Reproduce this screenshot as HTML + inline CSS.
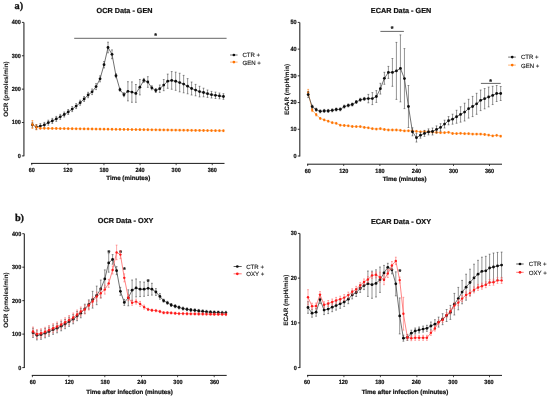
<!DOCTYPE html>
<html><head><meta charset="utf-8"><title>OCR / ECAR Data</title>
<style>
html,body{margin:0;padding:0;background:#fff;}
body{width:550px;height:396px;overflow:hidden;}
svg{display:block;}
text{text-rendering:geometricPrecision;font-family:"Liberation Sans",Arial,sans-serif;fill:#111;stroke:#111;stroke-width:0.22px;}
.tt{font-size:7.25px;font-weight:bold;}
.tl{font-size:6.1px;font-weight:bold;}
.xt{font-size:6.2px;font-weight:bold;}
.yt{font-size:6.35px;font-weight:bold;stroke-width:0.08px;}
.lg{font-size:6.1px;fill:#1a1a1a;stroke:#1a1a1a;stroke-width:0.14px;}
.st{font-size:7px;font-weight:bold;}
.pl{font-family:"Liberation Serif",serif;font-size:10.3px;font-weight:bold;stroke-width:0.3px;}
</style></head>
<body>
<svg width="550" height="396" viewBox="0 0 550 396">
<rect width="550" height="396" fill="#fff"/>
<text x="14.5" y="8.8" class="pl">a)</text>
<text x="14.9" y="220.8" class="pl">b)</text>
<line x1="23.9" y1="22.4" x2="23.9" y2="156.3" stroke="#555" stroke-width="1.4"/>
<line x1="21.9" y1="155.9" x2="23.9" y2="155.9" stroke="#1a1a1a" stroke-width="0.9"/>
<text transform="translate(20.8,157.8) scale(0.9,1)" class="tl" text-anchor="end">0</text>
<line x1="21.9" y1="122.53" x2="23.9" y2="122.53" stroke="#1a1a1a" stroke-width="0.9"/>
<text transform="translate(20.8,124.43) scale(0.9,1)" class="tl" text-anchor="end">100</text>
<line x1="21.9" y1="89.15" x2="23.9" y2="89.15" stroke="#1a1a1a" stroke-width="0.9"/>
<text transform="translate(20.8,91.05) scale(0.9,1)" class="tl" text-anchor="end">200</text>
<line x1="21.9" y1="55.78" x2="23.9" y2="55.78" stroke="#1a1a1a" stroke-width="0.9"/>
<text transform="translate(20.8,57.68) scale(0.9,1)" class="tl" text-anchor="end">300</text>
<line x1="21.9" y1="22.4" x2="23.9" y2="22.4" stroke="#1a1a1a" stroke-width="0.9"/>
<text transform="translate(20.8,24.3) scale(0.9,1)" class="tl" text-anchor="end">400</text>
<line x1="31" y1="163.4" x2="224.5" y2="163.4" stroke="#1a1a1a" stroke-width="1"/>
<line x1="31.75" y1="163.4" x2="31.75" y2="165.2" stroke="#1a1a1a" stroke-width="0.8"/>
<text transform="translate(31.75,171.9) scale(0.9,1)" class="tl" text-anchor="middle">60</text>
<line x1="67.85" y1="163.4" x2="67.85" y2="165.2" stroke="#1a1a1a" stroke-width="0.8"/>
<text transform="translate(67.85,171.9) scale(0.9,1)" class="tl" text-anchor="middle">120</text>
<line x1="103.95" y1="163.4" x2="103.95" y2="165.2" stroke="#1a1a1a" stroke-width="0.8"/>
<text transform="translate(103.95,171.9) scale(0.9,1)" class="tl" text-anchor="middle">180</text>
<line x1="140.05" y1="163.4" x2="140.05" y2="165.2" stroke="#1a1a1a" stroke-width="0.8"/>
<text transform="translate(140.05,171.9) scale(0.9,1)" class="tl" text-anchor="middle">240</text>
<line x1="176.15" y1="163.4" x2="176.15" y2="165.2" stroke="#1a1a1a" stroke-width="0.8"/>
<text transform="translate(176.15,171.9) scale(0.9,1)" class="tl" text-anchor="middle">300</text>
<line x1="212.25" y1="163.4" x2="212.25" y2="165.2" stroke="#1a1a1a" stroke-width="0.8"/>
<text transform="translate(212.25,171.9) scale(0.9,1)" class="tl" text-anchor="middle">360</text>
<text x="124.55" y="12.6" class="tt" text-anchor="middle">OCR Data - GEN</text>
<text x="128.25" y="180.2" class="xt" text-anchor="middle">Time (minutes)</text>
<text transform="translate(8.3,89) rotate(-90)" class="yt" text-anchor="middle">OCR (pmoles/min)</text>
<line x1="74.2" y1="38.3" x2="226.6" y2="38.3" stroke="#555" stroke-width="0.9"/>
<text x="155.6" y="37.9" class="st" text-anchor="middle">*</text>
<polyline points="32.4,124.8 36.38,127 40.36,126.1 44.34,124.9 48.32,122.7 52.3,120.9 56.28,118.9 60.26,116.85 64.24,114.5 68.22,112 72.2,109.1 76.18,106.1 80.16,102.7 84.14,99 88.12,95 92.1,91.8 96.08,86.6 100.06,78.85 104.04,64.7 108.02,47.5 112,54.3 115.98,75.7 119.96,89.7 123.94,94.7 127.92,91.3 131.9,92.1 135.88,93.4 139.86,87.2 143.84,80.4 147.82,82 151.8,87.8 155.78,90.5 159.76,88.7 163.74,85.1 167.72,81.2 171.7,80.4 175.68,81.25 179.66,82.55 183.64,84.1 187.62,86.2 191.6,88.5 195.58,90.1 199.56,91.6 203.54,92.5 207.52,93.7 211.5,94.7 215.48,95.3 219.46,95.9 223.44,96.5" fill="none" stroke="#333" stroke-width="0.7" stroke-linejoin="round"/>
<path d="M32.4 122.3V127.3M31.5 122.3H33.3M31.5 127.3H33.3M36.38 124.5V129.5M35.48 124.5H37.28M35.48 129.5H37.28M40.36 123.6V128.6M39.46 123.6H41.26M39.46 128.6H41.26M44.34 122.4V127.4M43.44 122.4H45.24M43.44 127.4H45.24M48.32 120.2V125.2M47.42 120.2H49.22M47.42 125.2H49.22M52.3 118.4V123.4M51.4 118.4H53.2M51.4 123.4H53.2M56.28 116.4V121.4M55.38 116.4H57.18M55.38 121.4H57.18M60.26 114.35V119.35M59.36 114.35H61.16M59.36 119.35H61.16M64.24 112V117M63.34 112H65.14M63.34 117H65.14M68.22 109.5V114.5M67.32 109.5H69.12M67.32 114.5H69.12M72.2 106.6V111.6M71.3 106.6H73.1M71.3 111.6H73.1M76.18 103.6V108.6M75.28 103.6H77.08M75.28 108.6H77.08M80.16 100.2V105.2M79.26 100.2H81.06M79.26 105.2H81.06M84.14 96.5V101.5M83.24 96.5H85.04M83.24 101.5H85.04M88.12 92.3V97.7M87.22 92.3H89.02M87.22 97.7H89.02M92.1 89V94.6M91.2 89H93M91.2 94.6H93M96.08 83.6V89.6M95.18 83.6H96.98M95.18 89.6H96.98M100.06 75.85V81.85M99.16 75.85H100.96M99.16 81.85H100.96M104.04 61.5V67.9M103.14 61.5H104.94M103.14 67.9H104.94M108.02 42.2V52.8M107.12 42.2H108.92M107.12 52.8H108.92M112 49.9V58.7M111.1 49.9H112.9M111.1 58.7H112.9M115.98 73.7V77.7M115.08 73.7H116.88M115.08 77.7H116.88M119.96 88.2V91.2M119.06 88.2H120.86M119.06 91.2H120.86M123.94 92.7V96.7M123.04 92.7H124.84M123.04 96.7H124.84M127.92 81.7V100.9M127.02 81.7H128.82M127.02 100.9H128.82M131.9 81.9V102.3M131 81.9H132.8M131 102.3H132.8M135.88 84.5V102.3M134.98 84.5H136.78M134.98 102.3H136.78M139.86 79.5V94.9M138.96 79.5H140.76M138.96 94.9H140.76M143.84 78.4V82.4M142.94 78.4H144.74M142.94 82.4H144.74M147.82 76.7V87.3M146.92 76.7H148.72M146.92 87.3H148.72M151.8 85.8V89.8M150.9 85.8H152.7M150.9 89.8H152.7M155.78 88.5V92.5M154.88 88.5H156.68M154.88 92.5H156.68M159.76 85V92.4M158.86 85H160.66M158.86 92.4H160.66M163.74 79.5V90.7M162.84 79.5H164.64M162.84 90.7H164.64M167.72 74.1V88.3M166.82 74.1H168.62M166.82 88.3H168.62M171.7 71.55V89.25M170.8 71.55H172.6M170.8 89.25H172.6M175.68 72.15V90.35M174.78 72.15H176.58M174.78 90.35H176.58M179.66 73.25V91.85M178.76 73.25H180.56M178.76 91.85H180.56M183.64 75.4V92.8M182.74 75.4H184.54M182.74 92.8H184.54M187.62 78.6V93.8M186.72 78.6H188.52M186.72 93.8H188.52M191.6 82V95M190.7 82H192.5M190.7 95H192.5M195.58 84.4V95.8M194.68 84.4H196.48M194.68 95.8H196.48M199.56 86.3V96.9M198.66 86.3H200.46M198.66 96.9H200.46M203.54 88.2V96.8M202.64 88.2H204.44M202.64 96.8H204.44M207.52 90V97.4M206.62 90H208.42M206.62 97.4H208.42M211.5 91.4V98M210.6 91.4H212.4M210.6 98H212.4M215.48 92.1V98.5M214.58 92.1H216.38M214.58 98.5H216.38M219.46 93V98.8M218.56 93H220.36M218.56 98.8H220.36M223.44 93.7V99.3M222.54 93.7H224.34M222.54 99.3H224.34" stroke="#3a3a3a" stroke-width="0.55" fill="none"/>
<circle cx="32.4" cy="124.8" r="1.4" fill="#0d0d0d"/>
<circle cx="36.38" cy="127" r="1.4" fill="#0d0d0d"/>
<circle cx="40.36" cy="126.1" r="1.4" fill="#0d0d0d"/>
<circle cx="44.34" cy="124.9" r="1.4" fill="#0d0d0d"/>
<circle cx="48.32" cy="122.7" r="1.4" fill="#0d0d0d"/>
<circle cx="52.3" cy="120.9" r="1.4" fill="#0d0d0d"/>
<circle cx="56.28" cy="118.9" r="1.4" fill="#0d0d0d"/>
<circle cx="60.26" cy="116.85" r="1.4" fill="#0d0d0d"/>
<circle cx="64.24" cy="114.5" r="1.4" fill="#0d0d0d"/>
<circle cx="68.22" cy="112" r="1.4" fill="#0d0d0d"/>
<circle cx="72.2" cy="109.1" r="1.4" fill="#0d0d0d"/>
<circle cx="76.18" cy="106.1" r="1.4" fill="#0d0d0d"/>
<circle cx="80.16" cy="102.7" r="1.4" fill="#0d0d0d"/>
<circle cx="84.14" cy="99" r="1.4" fill="#0d0d0d"/>
<circle cx="88.12" cy="95" r="1.4" fill="#0d0d0d"/>
<circle cx="92.1" cy="91.8" r="1.4" fill="#0d0d0d"/>
<circle cx="96.08" cy="86.6" r="1.4" fill="#0d0d0d"/>
<circle cx="100.06" cy="78.85" r="1.4" fill="#0d0d0d"/>
<circle cx="104.04" cy="64.7" r="1.4" fill="#0d0d0d"/>
<circle cx="108.02" cy="47.5" r="1.4" fill="#0d0d0d"/>
<circle cx="112" cy="54.3" r="1.4" fill="#0d0d0d"/>
<circle cx="115.98" cy="75.7" r="1.4" fill="#0d0d0d"/>
<circle cx="119.96" cy="89.7" r="1.4" fill="#0d0d0d"/>
<circle cx="123.94" cy="94.7" r="1.4" fill="#0d0d0d"/>
<circle cx="127.92" cy="91.3" r="1.4" fill="#0d0d0d"/>
<circle cx="131.9" cy="92.1" r="1.4" fill="#0d0d0d"/>
<circle cx="135.88" cy="93.4" r="1.4" fill="#0d0d0d"/>
<circle cx="139.86" cy="87.2" r="1.4" fill="#0d0d0d"/>
<circle cx="143.84" cy="80.4" r="1.4" fill="#0d0d0d"/>
<circle cx="147.82" cy="82" r="1.4" fill="#0d0d0d"/>
<circle cx="151.8" cy="87.8" r="1.4" fill="#0d0d0d"/>
<circle cx="155.78" cy="90.5" r="1.4" fill="#0d0d0d"/>
<circle cx="159.76" cy="88.7" r="1.4" fill="#0d0d0d"/>
<circle cx="163.74" cy="85.1" r="1.4" fill="#0d0d0d"/>
<circle cx="167.72" cy="81.2" r="1.4" fill="#0d0d0d"/>
<circle cx="171.7" cy="80.4" r="1.4" fill="#0d0d0d"/>
<circle cx="175.68" cy="81.25" r="1.4" fill="#0d0d0d"/>
<circle cx="179.66" cy="82.55" r="1.4" fill="#0d0d0d"/>
<circle cx="183.64" cy="84.1" r="1.4" fill="#0d0d0d"/>
<circle cx="187.62" cy="86.2" r="1.4" fill="#0d0d0d"/>
<circle cx="191.6" cy="88.5" r="1.4" fill="#0d0d0d"/>
<circle cx="195.58" cy="90.1" r="1.4" fill="#0d0d0d"/>
<circle cx="199.56" cy="91.6" r="1.4" fill="#0d0d0d"/>
<circle cx="203.54" cy="92.5" r="1.4" fill="#0d0d0d"/>
<circle cx="207.52" cy="93.7" r="1.4" fill="#0d0d0d"/>
<circle cx="211.5" cy="94.7" r="1.4" fill="#0d0d0d"/>
<circle cx="215.48" cy="95.3" r="1.4" fill="#0d0d0d"/>
<circle cx="219.46" cy="95.9" r="1.4" fill="#0d0d0d"/>
<circle cx="223.44" cy="96.5" r="1.4" fill="#0d0d0d"/>
<polyline points="32.4,124.5 36.38,127.3 40.36,128.3 44.34,128.35 48.32,128.41 52.3,128.46 56.28,128.51 60.26,128.57 64.24,128.62 68.22,128.67 72.2,128.73 76.18,128.78 80.16,128.83 84.14,128.89 88.12,128.94 92.1,128.99 96.08,129.05 100.06,129.1 104.04,129.15 108.02,129.21 112,129.26 115.98,129.31 119.96,129.37 123.94,129.42 127.92,129.47 131.9,129.53 135.88,129.58 139.86,129.63 143.84,129.68 147.82,129.74 151.8,129.79 155.78,129.84 159.76,129.9 163.74,129.95 167.72,130 171.7,130.06 175.68,130.11 179.66,130.16 183.64,130.22 187.62,130.27 191.6,130.32 195.58,130.38 199.56,130.43 203.54,130.48 207.52,130.54 211.5,130.59 215.48,130.64 219.46,130.7 223.44,130.75" fill="none" stroke="#ff9a40" stroke-width="0.7" stroke-linejoin="round"/>
<path d="M32.4 120.5V128.5M31.5 120.5H33.3M31.5 128.5H33.3M36.38 124.8V129.8M35.48 124.8H37.28M35.48 129.8H37.28M40.36 127.4V129.2M39.46 127.4H41.26M39.46 129.2H41.26M44.34 127.45V129.25M43.44 127.45H45.24M43.44 129.25H45.24M48.32 127.51V129.31M47.42 127.51H49.22M47.42 129.31H49.22M52.3 127.56V129.36M51.4 127.56H53.2M51.4 129.36H53.2M56.28 127.61V129.41M55.38 127.61H57.18M55.38 129.41H57.18M60.26 127.67V129.47M59.36 127.67H61.16M59.36 129.47H61.16M64.24 127.72V129.52M63.34 127.72H65.14M63.34 129.52H65.14M68.22 127.77V129.57M67.32 127.77H69.12M67.32 129.57H69.12M72.2 127.83V129.63M71.3 127.83H73.1M71.3 129.63H73.1M76.18 127.88V129.68M75.28 127.88H77.08M75.28 129.68H77.08M80.16 127.93V129.73M79.26 127.93H81.06M79.26 129.73H81.06M84.14 127.99V129.79M83.24 127.99H85.04M83.24 129.79H85.04M88.12 128.04V129.84M87.22 128.04H89.02M87.22 129.84H89.02M92.1 128.09V129.89M91.2 128.09H93M91.2 129.89H93M96.08 128.15V129.95M95.18 128.15H96.98M95.18 129.95H96.98M100.06 128.2V130M99.16 128.2H100.96M99.16 130H100.96M104.04 128.25V130.05M103.14 128.25H104.94M103.14 130.05H104.94M108.02 128.31V130.11M107.12 128.31H108.92M107.12 130.11H108.92M112 128.36V130.16M111.1 128.36H112.9M111.1 130.16H112.9M115.98 128.41V130.21M115.08 128.41H116.88M115.08 130.21H116.88M119.96 128.47V130.27M119.06 128.47H120.86M119.06 130.27H120.86M123.94 128.52V130.32M123.04 128.52H124.84M123.04 130.32H124.84M127.92 128.57V130.37M127.02 128.57H128.82M127.02 130.37H128.82M131.9 128.62V130.43M131 128.62H132.8M131 130.43H132.8M135.88 128.68V130.48M134.98 128.68H136.78M134.98 130.48H136.78M139.86 128.73V130.53M138.96 128.73H140.76M138.96 130.53H140.76M143.84 128.78V130.58M142.94 128.78H144.74M142.94 130.58H144.74M147.82 128.84V130.64M146.92 128.84H148.72M146.92 130.64H148.72M151.8 128.89V130.69M150.9 128.89H152.7M150.9 130.69H152.7M155.78 128.94V130.74M154.88 128.94H156.68M154.88 130.74H156.68M159.76 129V130.8M158.86 129H160.66M158.86 130.8H160.66M163.74 129.05V130.85M162.84 129.05H164.64M162.84 130.85H164.64M167.72 129.1V130.9M166.82 129.1H168.62M166.82 130.9H168.62M171.7 129.16V130.96M170.8 129.16H172.6M170.8 130.96H172.6M175.68 129.21V131.01M174.78 129.21H176.58M174.78 131.01H176.58M179.66 129.26V131.06M178.76 129.26H180.56M178.76 131.06H180.56M183.64 129.32V131.12M182.74 129.32H184.54M182.74 131.12H184.54M187.62 129.37V131.17M186.72 129.37H188.52M186.72 131.17H188.52M191.6 129.42V131.22M190.7 129.42H192.5M190.7 131.22H192.5M195.58 129.48V131.28M194.68 129.48H196.48M194.68 131.28H196.48M199.56 129.53V131.33M198.66 129.53H200.46M198.66 131.33H200.46M203.54 129.58V131.38M202.64 129.58H204.44M202.64 131.38H204.44M207.52 129.64V131.44M206.62 129.64H208.42M206.62 131.44H208.42M211.5 129.69V131.49M210.6 129.69H212.4M210.6 131.49H212.4M215.48 129.74V131.54M214.58 129.74H216.38M214.58 131.54H216.38M219.46 129.8V131.6M218.56 129.8H220.36M218.56 131.6H220.36M223.44 129.85V131.65M222.54 129.85H224.34M222.54 131.65H224.34" stroke="#ff7300" stroke-width="0.55" fill="none"/>
<circle cx="32.4" cy="124.5" r="1.15" fill="#ff7300"/>
<circle cx="36.38" cy="127.3" r="1.15" fill="#ff7300"/>
<circle cx="40.36" cy="128.3" r="1.15" fill="#ff7300"/>
<circle cx="44.34" cy="128.35" r="1.15" fill="#ff7300"/>
<circle cx="48.32" cy="128.41" r="1.15" fill="#ff7300"/>
<circle cx="52.3" cy="128.46" r="1.15" fill="#ff7300"/>
<circle cx="56.28" cy="128.51" r="1.15" fill="#ff7300"/>
<circle cx="60.26" cy="128.57" r="1.15" fill="#ff7300"/>
<circle cx="64.24" cy="128.62" r="1.15" fill="#ff7300"/>
<circle cx="68.22" cy="128.67" r="1.15" fill="#ff7300"/>
<circle cx="72.2" cy="128.73" r="1.15" fill="#ff7300"/>
<circle cx="76.18" cy="128.78" r="1.15" fill="#ff7300"/>
<circle cx="80.16" cy="128.83" r="1.15" fill="#ff7300"/>
<circle cx="84.14" cy="128.89" r="1.15" fill="#ff7300"/>
<circle cx="88.12" cy="128.94" r="1.15" fill="#ff7300"/>
<circle cx="92.1" cy="128.99" r="1.15" fill="#ff7300"/>
<circle cx="96.08" cy="129.05" r="1.15" fill="#ff7300"/>
<circle cx="100.06" cy="129.1" r="1.15" fill="#ff7300"/>
<circle cx="104.04" cy="129.15" r="1.15" fill="#ff7300"/>
<circle cx="108.02" cy="129.21" r="1.15" fill="#ff7300"/>
<circle cx="112" cy="129.26" r="1.15" fill="#ff7300"/>
<circle cx="115.98" cy="129.31" r="1.15" fill="#ff7300"/>
<circle cx="119.96" cy="129.37" r="1.15" fill="#ff7300"/>
<circle cx="123.94" cy="129.42" r="1.15" fill="#ff7300"/>
<circle cx="127.92" cy="129.47" r="1.15" fill="#ff7300"/>
<circle cx="131.9" cy="129.53" r="1.15" fill="#ff7300"/>
<circle cx="135.88" cy="129.58" r="1.15" fill="#ff7300"/>
<circle cx="139.86" cy="129.63" r="1.15" fill="#ff7300"/>
<circle cx="143.84" cy="129.68" r="1.15" fill="#ff7300"/>
<circle cx="147.82" cy="129.74" r="1.15" fill="#ff7300"/>
<circle cx="151.8" cy="129.79" r="1.15" fill="#ff7300"/>
<circle cx="155.78" cy="129.84" r="1.15" fill="#ff7300"/>
<circle cx="159.76" cy="129.9" r="1.15" fill="#ff7300"/>
<circle cx="163.74" cy="129.95" r="1.15" fill="#ff7300"/>
<circle cx="167.72" cy="130" r="1.15" fill="#ff7300"/>
<circle cx="171.7" cy="130.06" r="1.15" fill="#ff7300"/>
<circle cx="175.68" cy="130.11" r="1.15" fill="#ff7300"/>
<circle cx="179.66" cy="130.16" r="1.15" fill="#ff7300"/>
<circle cx="183.64" cy="130.22" r="1.15" fill="#ff7300"/>
<circle cx="187.62" cy="130.27" r="1.15" fill="#ff7300"/>
<circle cx="191.6" cy="130.32" r="1.15" fill="#ff7300"/>
<circle cx="195.58" cy="130.38" r="1.15" fill="#ff7300"/>
<circle cx="199.56" cy="130.43" r="1.15" fill="#ff7300"/>
<circle cx="203.54" cy="130.48" r="1.15" fill="#ff7300"/>
<circle cx="207.52" cy="130.54" r="1.15" fill="#ff7300"/>
<circle cx="211.5" cy="130.59" r="1.15" fill="#ff7300"/>
<circle cx="215.48" cy="130.64" r="1.15" fill="#ff7300"/>
<circle cx="219.46" cy="130.7" r="1.15" fill="#ff7300"/>
<circle cx="223.44" cy="130.75" r="1.15" fill="#ff7300"/>
<line x1="230" y1="55" x2="237.6" y2="55" stroke="#555" stroke-width="0.8"/>
<circle cx="233.9" cy="55" r="1.35" fill="#0d0d0d"/>
<text x="242.4" y="57.4" class="lg">CTR +</text>
<line x1="230" y1="62.1" x2="237.6" y2="62.1" stroke="#ffa050" stroke-width="0.8"/>
<circle cx="233.9" cy="62.1" r="1.35" fill="#ff7300"/>
<text x="242.4" y="64.5" class="lg">GEN +</text>
<line x1="299.75" y1="22.4" x2="299.75" y2="156.4" stroke="#555" stroke-width="1.4"/>
<line x1="297.75" y1="156" x2="299.75" y2="156" stroke="#1a1a1a" stroke-width="0.9"/>
<text transform="translate(296.65,157.9) scale(0.9,1)" class="tl" text-anchor="end">0</text>
<line x1="297.75" y1="129.28" x2="299.75" y2="129.28" stroke="#1a1a1a" stroke-width="0.9"/>
<text transform="translate(296.65,131.18) scale(0.9,1)" class="tl" text-anchor="end">10</text>
<line x1="297.75" y1="102.56" x2="299.75" y2="102.56" stroke="#1a1a1a" stroke-width="0.9"/>
<text transform="translate(296.65,104.46) scale(0.9,1)" class="tl" text-anchor="end">20</text>
<line x1="297.75" y1="75.84" x2="299.75" y2="75.84" stroke="#1a1a1a" stroke-width="0.9"/>
<text transform="translate(296.65,77.74) scale(0.9,1)" class="tl" text-anchor="end">30</text>
<line x1="297.75" y1="49.12" x2="299.75" y2="49.12" stroke="#1a1a1a" stroke-width="0.9"/>
<text transform="translate(296.65,51.02) scale(0.9,1)" class="tl" text-anchor="end">40</text>
<line x1="297.75" y1="22.4" x2="299.75" y2="22.4" stroke="#1a1a1a" stroke-width="0.9"/>
<text transform="translate(296.65,24.3) scale(0.9,1)" class="tl" text-anchor="end">50</text>
<line x1="307" y1="164.2" x2="502" y2="164.2" stroke="#1a1a1a" stroke-width="1"/>
<line x1="307.7" y1="164.2" x2="307.7" y2="166" stroke="#1a1a1a" stroke-width="0.8"/>
<text transform="translate(307.7,172.7) scale(0.9,1)" class="tl" text-anchor="middle">60</text>
<line x1="343.7" y1="164.2" x2="343.7" y2="166" stroke="#1a1a1a" stroke-width="0.8"/>
<text transform="translate(343.7,172.7) scale(0.9,1)" class="tl" text-anchor="middle">120</text>
<line x1="379.9" y1="164.2" x2="379.9" y2="166" stroke="#1a1a1a" stroke-width="0.8"/>
<text transform="translate(379.9,172.7) scale(0.9,1)" class="tl" text-anchor="middle">180</text>
<line x1="416.4" y1="164.2" x2="416.4" y2="166" stroke="#1a1a1a" stroke-width="0.8"/>
<text transform="translate(416.4,172.7) scale(0.9,1)" class="tl" text-anchor="middle">240</text>
<line x1="453.5" y1="164.2" x2="453.5" y2="166" stroke="#1a1a1a" stroke-width="0.8"/>
<text transform="translate(453.5,172.7) scale(0.9,1)" class="tl" text-anchor="middle">300</text>
<line x1="489.5" y1="164.2" x2="489.5" y2="166" stroke="#1a1a1a" stroke-width="0.8"/>
<text transform="translate(489.5,172.7) scale(0.9,1)" class="tl" text-anchor="middle">360</text>
<text x="401.05" y="12.6" class="tt" text-anchor="middle">ECAR Data - GEN</text>
<text x="404.65" y="180.8" class="xt" text-anchor="middle">Time (minutes)</text>
<text transform="translate(289.1,89.4) rotate(-90)" class="yt" text-anchor="middle">ECAR (mpH/min)</text>
<line x1="380.4" y1="31.4" x2="403.9" y2="31.4" stroke="#555" stroke-width="0.9"/>
<text x="392.2" y="31.3" class="st" text-anchor="middle">*</text>
<line x1="480.9" y1="83.4" x2="500.7" y2="83.4" stroke="#555" stroke-width="0.9"/>
<text x="490.6" y="83.5" class="st" text-anchor="middle">*</text>
<polyline points="308.2,92.4 312.21,110.1 316.22,114.7 320.23,118.4 324.24,119.9 328.25,121.2 332.26,122.7 336.27,123.3 340.28,125.2 344.29,125.5 348.3,125.8 352.31,126.5 356.32,126.6 360.33,126.6 364.34,127.4 368.35,127.8 372.36,128.7 376.37,129.1 380.38,128.7 384.39,129.5 388.4,130 392.41,130 396.42,130 400.43,130.3 404.44,130.9 408.45,130.8 412.46,131 416.47,131.3 420.48,131.8 424.49,131.6 428.5,131.8 432.51,132.1 436.52,132.4 440.53,132.7 444.54,132.7 448.55,132.3 452.56,133.5 456.57,133.6 460.58,133.3 464.59,133.7 468.6,133.7 472.61,134.1 476.62,134.1 480.63,134.1 484.64,134.5 488.65,135.1 492.66,135.9 496.67,135.3 500.68,136.2" fill="none" stroke="#ff9a40" stroke-width="0.7" stroke-linejoin="round"/>
<path d="M308.2 89.4V95.4M307.3 89.4H309.1M307.3 95.4H309.1M312.21 108.6V111.6M311.31 108.6H313.11M311.31 111.6H313.11M316.22 113.5V115.9M315.32 113.5H317.12M315.32 115.9H317.12M320.23 117.5V119.3M319.33 117.5H321.13M319.33 119.3H321.13M324.24 119V120.8M323.34 119H325.14M323.34 120.8H325.14M328.25 120.3V122.1M327.35 120.3H329.15M327.35 122.1H329.15M332.26 121.8V123.6M331.36 121.8H333.16M331.36 123.6H333.16M336.27 122.4V124.2M335.37 122.4H337.17M335.37 124.2H337.17M340.28 124.3V126.1M339.38 124.3H341.18M339.38 126.1H341.18M344.29 124.6V126.4M343.39 124.6H345.19M343.39 126.4H345.19M348.3 124.9V126.7M347.4 124.9H349.2M347.4 126.7H349.2M352.31 125.6V127.4M351.41 125.6H353.21M351.41 127.4H353.21M356.32 125.7V127.5M355.42 125.7H357.22M355.42 127.5H357.22M360.33 125.7V127.5M359.43 125.7H361.23M359.43 127.5H361.23M364.34 126.5V128.3M363.44 126.5H365.24M363.44 128.3H365.24M368.35 126.9V128.7M367.45 126.9H369.25M367.45 128.7H369.25M372.36 127.8V129.6M371.46 127.8H373.26M371.46 129.6H373.26M376.37 128.2V130M375.47 128.2H377.27M375.47 130H377.27M380.38 127.8V129.6M379.48 127.8H381.28M379.48 129.6H381.28M384.39 128.6V130.4M383.49 128.6H385.29M383.49 130.4H385.29M388.4 129.1V130.9M387.5 129.1H389.3M387.5 130.9H389.3M392.41 129.1V130.9M391.51 129.1H393.31M391.51 130.9H393.31M396.42 129.1V130.9M395.52 129.1H397.32M395.52 130.9H397.32M400.43 129.4V131.2M399.53 129.4H401.33M399.53 131.2H401.33M404.44 130V131.8M403.54 130H405.34M403.54 131.8H405.34M408.45 129.9V131.7M407.55 129.9H409.35M407.55 131.7H409.35M412.46 130.1V131.9M411.56 130.1H413.36M411.56 131.9H413.36M416.47 130.4V132.2M415.57 130.4H417.37M415.57 132.2H417.37M420.48 130.9V132.7M419.58 130.9H421.38M419.58 132.7H421.38M424.49 130.7V132.5M423.59 130.7H425.39M423.59 132.5H425.39M428.5 130.9V132.7M427.6 130.9H429.4M427.6 132.7H429.4M432.51 131.2V133M431.61 131.2H433.41M431.61 133H433.41M436.52 131.5V133.3M435.62 131.5H437.42M435.62 133.3H437.42M440.53 131.8V133.6M439.63 131.8H441.43M439.63 133.6H441.43M444.54 131.8V133.6M443.64 131.8H445.44M443.64 133.6H445.44M448.55 131.4V133.2M447.65 131.4H449.45M447.65 133.2H449.45M452.56 132.6V134.4M451.66 132.6H453.46M451.66 134.4H453.46M456.57 132.7V134.5M455.67 132.7H457.47M455.67 134.5H457.47M460.58 132.4V134.2M459.68 132.4H461.48M459.68 134.2H461.48M464.59 132.8V134.6M463.69 132.8H465.49M463.69 134.6H465.49M468.6 132.8V134.6M467.7 132.8H469.5M467.7 134.6H469.5M472.61 133.2V135M471.71 133.2H473.51M471.71 135H473.51M476.62 133.2V135M475.72 133.2H477.52M475.72 135H477.52M480.63 133.2V135M479.73 133.2H481.53M479.73 135H481.53M484.64 133.6V135.4M483.74 133.6H485.54M483.74 135.4H485.54M488.65 134.2V136M487.75 134.2H489.55M487.75 136H489.55M492.66 135V136.8M491.76 135H493.56M491.76 136.8H493.56M496.67 134.4V136.2M495.77 134.4H497.57M495.77 136.2H497.57M500.68 135.3V137.1M499.78 135.3H501.58M499.78 137.1H501.58" stroke="#ff7300" stroke-width="0.55" fill="none"/>
<circle cx="308.2" cy="92.4" r="1.15" fill="#ff7300"/>
<circle cx="312.21" cy="110.1" r="1.15" fill="#ff7300"/>
<circle cx="316.22" cy="114.7" r="1.15" fill="#ff7300"/>
<circle cx="320.23" cy="118.4" r="1.15" fill="#ff7300"/>
<circle cx="324.24" cy="119.9" r="1.15" fill="#ff7300"/>
<circle cx="328.25" cy="121.2" r="1.15" fill="#ff7300"/>
<circle cx="332.26" cy="122.7" r="1.15" fill="#ff7300"/>
<circle cx="336.27" cy="123.3" r="1.15" fill="#ff7300"/>
<circle cx="340.28" cy="125.2" r="1.15" fill="#ff7300"/>
<circle cx="344.29" cy="125.5" r="1.15" fill="#ff7300"/>
<circle cx="348.3" cy="125.8" r="1.15" fill="#ff7300"/>
<circle cx="352.31" cy="126.5" r="1.15" fill="#ff7300"/>
<circle cx="356.32" cy="126.6" r="1.15" fill="#ff7300"/>
<circle cx="360.33" cy="126.6" r="1.15" fill="#ff7300"/>
<circle cx="364.34" cy="127.4" r="1.15" fill="#ff7300"/>
<circle cx="368.35" cy="127.8" r="1.15" fill="#ff7300"/>
<circle cx="372.36" cy="128.7" r="1.15" fill="#ff7300"/>
<circle cx="376.37" cy="129.1" r="1.15" fill="#ff7300"/>
<circle cx="380.38" cy="128.7" r="1.15" fill="#ff7300"/>
<circle cx="384.39" cy="129.5" r="1.15" fill="#ff7300"/>
<circle cx="388.4" cy="130" r="1.15" fill="#ff7300"/>
<circle cx="392.41" cy="130" r="1.15" fill="#ff7300"/>
<circle cx="396.42" cy="130" r="1.15" fill="#ff7300"/>
<circle cx="400.43" cy="130.3" r="1.15" fill="#ff7300"/>
<circle cx="404.44" cy="130.9" r="1.15" fill="#ff7300"/>
<circle cx="408.45" cy="130.8" r="1.15" fill="#ff7300"/>
<circle cx="412.46" cy="131" r="1.15" fill="#ff7300"/>
<circle cx="416.47" cy="131.3" r="1.15" fill="#ff7300"/>
<circle cx="420.48" cy="131.8" r="1.15" fill="#ff7300"/>
<circle cx="424.49" cy="131.6" r="1.15" fill="#ff7300"/>
<circle cx="428.5" cy="131.8" r="1.15" fill="#ff7300"/>
<circle cx="432.51" cy="132.1" r="1.15" fill="#ff7300"/>
<circle cx="436.52" cy="132.4" r="1.15" fill="#ff7300"/>
<circle cx="440.53" cy="132.7" r="1.15" fill="#ff7300"/>
<circle cx="444.54" cy="132.7" r="1.15" fill="#ff7300"/>
<circle cx="448.55" cy="132.3" r="1.15" fill="#ff7300"/>
<circle cx="452.56" cy="133.5" r="1.15" fill="#ff7300"/>
<circle cx="456.57" cy="133.6" r="1.15" fill="#ff7300"/>
<circle cx="460.58" cy="133.3" r="1.15" fill="#ff7300"/>
<circle cx="464.59" cy="133.7" r="1.15" fill="#ff7300"/>
<circle cx="468.6" cy="133.7" r="1.15" fill="#ff7300"/>
<circle cx="472.61" cy="134.1" r="1.15" fill="#ff7300"/>
<circle cx="476.62" cy="134.1" r="1.15" fill="#ff7300"/>
<circle cx="480.63" cy="134.1" r="1.15" fill="#ff7300"/>
<circle cx="484.64" cy="134.5" r="1.15" fill="#ff7300"/>
<circle cx="488.65" cy="135.1" r="1.15" fill="#ff7300"/>
<circle cx="492.66" cy="135.9" r="1.15" fill="#ff7300"/>
<circle cx="496.67" cy="135.3" r="1.15" fill="#ff7300"/>
<circle cx="500.68" cy="136.2" r="1.15" fill="#ff7300"/>
<polyline points="308.2,94.6 312.21,106.6 316.22,109.7 320.23,111.3 324.24,110.9 328.25,110.9 332.26,110.3 336.27,109.5 340.28,109.3 344.29,106.6 348.3,105.4 352.31,104.5 356.32,102 360.33,99.8 364.34,98.9 368.35,98.6 372.36,98.6 376.37,96.5 380.38,88.7 384.39,78.3 388.4,72.4 392.41,72.4 396.42,70.9 400.43,68.4 404.44,78.6 408.45,106.5 412.46,131.8 416.47,137.7 420.48,135.2 424.49,133.4 428.5,131.9 432.51,131.5 436.52,129.4 440.53,127.4 444.54,124.1 448.55,120.7 452.56,119.2 456.57,116.75 460.58,114.45 464.59,112.1 468.6,108.7 472.61,106.5 476.62,103.8 480.63,100.3 484.64,98.7 488.65,97 492.66,95.4 496.67,93.5 500.68,93.5" fill="none" stroke="#333" stroke-width="0.7" stroke-linejoin="round"/>
<path d="M308.2 91.6V97.6M307.3 91.6H309.1M307.3 97.6H309.1M312.21 105.1V108.1M311.31 105.1H313.11M311.31 108.1H313.11M316.22 108.2V111.2M315.32 108.2H317.12M315.32 111.2H317.12M320.23 109.8V112.8M319.33 109.8H321.13M319.33 112.8H321.13M324.24 109.4V112.4M323.34 109.4H325.14M323.34 112.4H325.14M328.25 109.4V112.4M327.35 109.4H329.15M327.35 112.4H329.15M332.26 108.8V111.8M331.36 108.8H333.16M331.36 111.8H333.16M336.27 108V111M335.37 108H337.17M335.37 111H337.17M340.28 107.8V110.8M339.38 107.8H341.18M339.38 110.8H341.18M344.29 105.1V108.1M343.39 105.1H345.19M343.39 108.1H345.19M348.3 103.9V106.9M347.4 103.9H349.2M347.4 106.9H349.2M352.31 103V106M351.41 103H353.21M351.41 106H353.21M356.32 100.5V103.5M355.42 100.5H357.22M355.42 103.5H357.22M360.33 98.3V101.3M359.43 98.3H361.23M359.43 101.3H361.23M364.34 97.4V100.4M363.44 97.4H365.24M363.44 100.4H365.24M368.35 94.4V102.8M367.45 94.4H369.25M367.45 102.8H369.25M372.36 92.6V104.6M371.46 92.6H373.26M371.46 104.6H373.26M376.37 90.6V102.4M375.47 90.6H377.27M375.47 102.4H377.27M380.38 83.3V94.1M379.48 83.3H381.28M379.48 94.1H381.28M384.39 72.3V84.3M383.49 72.3H385.29M383.49 84.3H385.29M388.4 66.4V78.4M387.5 66.4H389.3M387.5 78.4H389.3M392.41 58.5V86.3M391.51 58.5H393.31M391.51 86.3H393.31M396.42 42.4V99.4M395.52 42.4H397.32M395.52 99.4H397.32M400.43 34.9V101.9M399.53 34.9H401.33M399.53 101.9H401.33M404.44 48.6V108.6M403.54 48.6H405.34M403.54 108.6H405.34M408.45 85.5V127.5M407.55 85.5H409.35M407.55 127.5H409.35M412.46 127.8V135.8M411.56 127.8H413.36M411.56 135.8H413.36M416.47 133.35V142.05M415.57 133.35H417.37M415.57 142.05H417.37M420.48 132.2V138.2M419.58 132.2H421.38M419.58 138.2H421.38M424.49 130.4V136.4M423.59 130.4H425.39M423.59 136.4H425.39M428.5 128.9V134.9M427.6 128.9H429.4M427.6 134.9H429.4M432.51 128V135M431.61 128H433.41M431.61 135H433.41M436.52 125.9V132.9M435.62 125.9H437.42M435.62 132.9H437.42M440.53 123.7V131.1M439.63 123.7H441.43M439.63 131.1H441.43M444.54 120.2V128M443.64 120.2H445.44M443.64 128H445.44M448.55 116.6V124.8M447.65 116.6H449.45M447.65 124.8H449.45M452.56 114.2V124.2M451.66 114.2H453.46M451.66 124.2H453.46M456.57 110.25V123.25M455.67 110.25H457.47M455.67 123.25H457.47M460.58 106.75V122.15M459.68 106.75H461.48M459.68 122.15H461.48M464.59 103.2V121M463.69 103.2H465.49M463.69 121H465.49M468.6 99.3V118.1M467.7 99.3H469.5M467.7 118.1H469.5M472.61 96.4V116.6M471.71 96.4H473.51M471.71 116.6H473.51M476.62 93.3V114.3M475.72 93.3H477.52M475.72 114.3H477.52M480.63 90V110.6M479.73 90H481.53M479.73 110.6H481.53M484.64 88.55V108.85M483.74 88.55H485.54M483.74 108.85H485.54M488.65 87.1V106.9M487.75 87.1H489.55M487.75 106.9H489.55M492.66 86.25V104.55M491.76 86.25H493.56M491.76 104.55H493.56M496.67 85.5V101.5M495.77 85.5H497.57M495.77 101.5H497.57M500.68 86.5V100.5M499.78 86.5H501.58M499.78 100.5H501.58" stroke="#3a3a3a" stroke-width="0.55" fill="none"/>
<circle cx="308.2" cy="94.6" r="1.4" fill="#0d0d0d"/>
<circle cx="312.21" cy="106.6" r="1.4" fill="#0d0d0d"/>
<circle cx="316.22" cy="109.7" r="1.4" fill="#0d0d0d"/>
<circle cx="320.23" cy="111.3" r="1.4" fill="#0d0d0d"/>
<circle cx="324.24" cy="110.9" r="1.4" fill="#0d0d0d"/>
<circle cx="328.25" cy="110.9" r="1.4" fill="#0d0d0d"/>
<circle cx="332.26" cy="110.3" r="1.4" fill="#0d0d0d"/>
<circle cx="336.27" cy="109.5" r="1.4" fill="#0d0d0d"/>
<circle cx="340.28" cy="109.3" r="1.4" fill="#0d0d0d"/>
<circle cx="344.29" cy="106.6" r="1.4" fill="#0d0d0d"/>
<circle cx="348.3" cy="105.4" r="1.4" fill="#0d0d0d"/>
<circle cx="352.31" cy="104.5" r="1.4" fill="#0d0d0d"/>
<circle cx="356.32" cy="102" r="1.4" fill="#0d0d0d"/>
<circle cx="360.33" cy="99.8" r="1.4" fill="#0d0d0d"/>
<circle cx="364.34" cy="98.9" r="1.4" fill="#0d0d0d"/>
<circle cx="368.35" cy="98.6" r="1.4" fill="#0d0d0d"/>
<circle cx="372.36" cy="98.6" r="1.4" fill="#0d0d0d"/>
<circle cx="376.37" cy="96.5" r="1.4" fill="#0d0d0d"/>
<circle cx="380.38" cy="88.7" r="1.4" fill="#0d0d0d"/>
<circle cx="384.39" cy="78.3" r="1.4" fill="#0d0d0d"/>
<circle cx="388.4" cy="72.4" r="1.4" fill="#0d0d0d"/>
<circle cx="392.41" cy="72.4" r="1.4" fill="#0d0d0d"/>
<circle cx="396.42" cy="70.9" r="1.4" fill="#0d0d0d"/>
<circle cx="400.43" cy="68.4" r="1.4" fill="#0d0d0d"/>
<circle cx="404.44" cy="78.6" r="1.4" fill="#0d0d0d"/>
<circle cx="408.45" cy="106.5" r="1.4" fill="#0d0d0d"/>
<circle cx="412.46" cy="131.8" r="1.4" fill="#0d0d0d"/>
<circle cx="416.47" cy="137.7" r="1.4" fill="#0d0d0d"/>
<circle cx="420.48" cy="135.2" r="1.4" fill="#0d0d0d"/>
<circle cx="424.49" cy="133.4" r="1.4" fill="#0d0d0d"/>
<circle cx="428.5" cy="131.9" r="1.4" fill="#0d0d0d"/>
<circle cx="432.51" cy="131.5" r="1.4" fill="#0d0d0d"/>
<circle cx="436.52" cy="129.4" r="1.4" fill="#0d0d0d"/>
<circle cx="440.53" cy="127.4" r="1.4" fill="#0d0d0d"/>
<circle cx="444.54" cy="124.1" r="1.4" fill="#0d0d0d"/>
<circle cx="448.55" cy="120.7" r="1.4" fill="#0d0d0d"/>
<circle cx="452.56" cy="119.2" r="1.4" fill="#0d0d0d"/>
<circle cx="456.57" cy="116.75" r="1.4" fill="#0d0d0d"/>
<circle cx="460.58" cy="114.45" r="1.4" fill="#0d0d0d"/>
<circle cx="464.59" cy="112.1" r="1.4" fill="#0d0d0d"/>
<circle cx="468.6" cy="108.7" r="1.4" fill="#0d0d0d"/>
<circle cx="472.61" cy="106.5" r="1.4" fill="#0d0d0d"/>
<circle cx="476.62" cy="103.8" r="1.4" fill="#0d0d0d"/>
<circle cx="480.63" cy="100.3" r="1.4" fill="#0d0d0d"/>
<circle cx="484.64" cy="98.7" r="1.4" fill="#0d0d0d"/>
<circle cx="488.65" cy="97" r="1.4" fill="#0d0d0d"/>
<circle cx="492.66" cy="95.4" r="1.4" fill="#0d0d0d"/>
<circle cx="496.67" cy="93.5" r="1.4" fill="#0d0d0d"/>
<circle cx="500.68" cy="93.5" r="1.4" fill="#0d0d0d"/>
<line x1="508.1" y1="57.1" x2="515.9" y2="57.1" stroke="#555" stroke-width="0.8"/>
<circle cx="512.2" cy="57.1" r="1.35" fill="#0d0d0d"/>
<text x="520.9" y="59.4" class="lg">CTR +</text>
<line x1="508.1" y1="65.1" x2="515.9" y2="65.1" stroke="#ffa050" stroke-width="0.8"/>
<circle cx="512.2" cy="65.1" r="1.35" fill="#ff7300"/>
<text x="520.9" y="67.5" class="lg">GEN +</text>
<line x1="24.3" y1="233.7" x2="24.3" y2="368" stroke="#222" stroke-width="1.1"/>
<line x1="22.3" y1="367.6" x2="24.3" y2="367.6" stroke="#1a1a1a" stroke-width="0.9"/>
<text transform="translate(21.2,369.5) scale(0.9,1)" class="tl" text-anchor="end">0</text>
<line x1="22.3" y1="334.12" x2="24.3" y2="334.12" stroke="#1a1a1a" stroke-width="0.9"/>
<text transform="translate(21.2,336.02) scale(0.9,1)" class="tl" text-anchor="end">100</text>
<line x1="22.3" y1="300.65" x2="24.3" y2="300.65" stroke="#1a1a1a" stroke-width="0.9"/>
<text transform="translate(21.2,302.55) scale(0.9,1)" class="tl" text-anchor="end">200</text>
<line x1="22.3" y1="267.18" x2="24.3" y2="267.18" stroke="#1a1a1a" stroke-width="0.9"/>
<text transform="translate(21.2,269.07) scale(0.9,1)" class="tl" text-anchor="end">300</text>
<line x1="22.3" y1="233.7" x2="24.3" y2="233.7" stroke="#1a1a1a" stroke-width="0.9"/>
<text transform="translate(21.2,235.6) scale(0.9,1)" class="tl" text-anchor="end">400</text>
<line x1="31.8" y1="375.4" x2="226.7" y2="375.4" stroke="#1a1a1a" stroke-width="1"/>
<line x1="32.4" y1="375.4" x2="32.4" y2="377.2" stroke="#1a1a1a" stroke-width="0.8"/>
<text transform="translate(32.7,383.9) scale(0.9,1)" class="tl" text-anchor="middle">60</text>
<line x1="68.9" y1="375.4" x2="68.9" y2="377.2" stroke="#1a1a1a" stroke-width="0.8"/>
<text transform="translate(69.2,383.9) scale(0.9,1)" class="tl" text-anchor="middle">120</text>
<line x1="104.8" y1="375.4" x2="104.8" y2="377.2" stroke="#1a1a1a" stroke-width="0.8"/>
<text transform="translate(105.1,383.9) scale(0.9,1)" class="tl" text-anchor="middle">180</text>
<line x1="141.5" y1="375.4" x2="141.5" y2="377.2" stroke="#1a1a1a" stroke-width="0.8"/>
<text transform="translate(141.8,383.9) scale(0.9,1)" class="tl" text-anchor="middle">240</text>
<line x1="177.6" y1="375.4" x2="177.6" y2="377.2" stroke="#1a1a1a" stroke-width="0.8"/>
<text transform="translate(177.9,383.9) scale(0.9,1)" class="tl" text-anchor="middle">300</text>
<line x1="214.2" y1="375.4" x2="214.2" y2="377.2" stroke="#1a1a1a" stroke-width="0.8"/>
<text transform="translate(214.5,383.9) scale(0.9,1)" class="tl" text-anchor="middle">360</text>
<text x="125.55" y="223.4" class="tt" text-anchor="middle">OCR Data - OXY</text>
<text x="129.55" y="393.7" class="xt" text-anchor="middle">Time after infection (minutes)</text>
<text transform="translate(8.3,300) rotate(-90)" class="yt" text-anchor="middle">OCR (pmoles/min)</text>
<text x="108.8" y="255.4" class="st" text-anchor="middle">*</text>
<text x="120.5" y="254.5" class="st" text-anchor="middle">*</text>
<text x="124.4" y="271.8" class="st" text-anchor="middle">*</text>
<text x="148.1" y="283.5" class="st" text-anchor="middle">*</text>
<polyline points="33,332.8 36.9,335.3 41,334.7 45.1,333.2 49,331.6 53.1,329.7 57.1,328.2 61.2,326.2 65.1,324.1 69.1,321.7 73.2,319.2 77.1,316.1 80.8,313.2 84.8,308.8 88.8,304.5 92.6,299.7 96.7,295.4 100.75,289 104.8,278.9 108.7,262.9 112.6,259.4 116.6,270.65 120.4,291.3 124.3,302.4 128.3,297.8 132.1,290.2 136.1,287.95 140.1,289.2 144.1,289.2 148.1,288.3 151.9,289.2 155.9,292 159.9,296.4 163.6,300.7 167.4,302.8 171.2,305 175.2,306.25 179,307.45 183,308.55 187,309.3 190.8,310 194.8,310.3 198.7,310.9 202.7,311.3 206.5,311.8 210.5,312.2 214.3,312.4 218.3,312.5 222.2,312.8 225.9,312.8" fill="none" stroke="#333" stroke-width="0.7" stroke-linejoin="round"/>
<path d="M33 328.2V337.4M32.1 328.2H33.9M32.1 337.4H33.9M36.9 330.7V339.9M36 330.7H37.8M36 339.9H37.8M41 330.1V339.3M40.1 330.1H41.9M40.1 339.3H41.9M45.1 328.6V337.8M44.2 328.6H46M44.2 337.8H46M49 327V336.2M48.1 327H49.9M48.1 336.2H49.9M53.1 325.1V334.3M52.2 325.1H54M52.2 334.3H54M57.1 323.6V332.8M56.2 323.6H58M56.2 332.8H58M61.2 321.6V330.8M60.3 321.6H62.1M60.3 330.8H62.1M65.1 319.5V328.7M64.2 319.5H66M64.2 328.7H66M69.1 317.1V326.3M68.2 317.1H70M68.2 326.3H70M73.2 314.6V323.8M72.3 314.6H74.1M72.3 323.8H74.1M77.1 311.5V320.7M76.2 311.5H78M76.2 320.7H78M80.8 308.6V317.8M79.9 308.6H81.7M79.9 317.8H81.7M84.8 304.2V313.4M83.9 304.2H85.7M83.9 313.4H85.7M88.8 299.9V309.1M87.9 299.9H89.7M87.9 309.1H89.7M92.6 291.3V308.1M91.7 291.3H93.5M91.7 308.1H93.5M96.7 286.1V304.7M95.8 286.1H97.6M95.8 304.7H97.6M100.75 280V298M99.85 280H101.65M99.85 298H101.65M104.8 269.9V287.9M103.9 269.9H105.7M103.9 287.9H105.7M108.7 253.6V272.2M107.8 253.6H109.6M107.8 272.2H109.6M112.6 254.6V264.2M111.7 254.6H113.5M111.7 264.2H113.5M116.6 266.65V274.65M115.7 266.65H117.5M115.7 274.65H117.5M120.4 287.3V295.3M119.5 287.3H121.3M119.5 295.3H121.3M124.3 299.4V305.4M123.4 299.4H125.2M123.4 305.4H125.2M128.3 289.8V305.8M127.4 289.8H129.2M127.4 305.8H129.2M132.1 280V300.4M131.2 280H133M131.2 300.4H133M136.1 278.95V296.95M135.2 278.95H137M135.2 296.95H137M140.1 281.8V296.6M139.2 281.8H141M139.2 296.6H141M144.1 282.1V296.3M143.2 282.1H145M143.2 296.3H145M148.1 281.2V295.4M147.2 281.2H149M147.2 295.4H149M151.9 283.3V295.1M151 283.3H152.8M151 295.1H152.8M155.9 288.6V295.4M155 288.6H156.8M155 295.4H156.8M159.9 293.6V299.2M159 293.6H160.8M159 299.2H160.8M163.6 299.2V302.2M162.7 299.2H164.5M162.7 302.2H164.5M167.4 301.3V304.3M166.5 301.3H168.3M166.5 304.3H168.3M171.2 303.5V306.5M170.3 303.5H172.1M170.3 306.5H172.1M175.2 304.75V307.75M174.3 304.75H176.1M174.3 307.75H176.1M179 305.95V308.95M178.1 305.95H179.9M178.1 308.95H179.9M183 307.05V310.05M182.1 307.05H183.9M182.1 310.05H183.9M187 307.8V310.8M186.1 307.8H187.9M186.1 310.8H187.9M190.8 308.5V311.5M189.9 308.5H191.7M189.9 311.5H191.7M194.8 308.8V311.8M193.9 308.8H195.7M193.9 311.8H195.7M198.7 309.4V312.4M197.8 309.4H199.6M197.8 312.4H199.6M202.7 309.8V312.8M201.8 309.8H203.6M201.8 312.8H203.6M206.5 310.3V313.3M205.6 310.3H207.4M205.6 313.3H207.4M210.5 310.7V313.7M209.6 310.7H211.4M209.6 313.7H211.4M214.3 310.9V313.9M213.4 310.9H215.2M213.4 313.9H215.2M218.3 311V314M217.4 311H219.2M217.4 314H219.2M222.2 311.3V314.3M221.3 311.3H223.1M221.3 314.3H223.1M225.9 311.3V314.3M225 311.3H226.8M225 314.3H226.8" stroke="#3a3a3a" stroke-width="0.55" fill="none"/>
<circle cx="33" cy="332.8" r="1.4" fill="#0d0d0d"/>
<circle cx="36.9" cy="335.3" r="1.4" fill="#0d0d0d"/>
<circle cx="41" cy="334.7" r="1.4" fill="#0d0d0d"/>
<circle cx="45.1" cy="333.2" r="1.4" fill="#0d0d0d"/>
<circle cx="49" cy="331.6" r="1.4" fill="#0d0d0d"/>
<circle cx="53.1" cy="329.7" r="1.4" fill="#0d0d0d"/>
<circle cx="57.1" cy="328.2" r="1.4" fill="#0d0d0d"/>
<circle cx="61.2" cy="326.2" r="1.4" fill="#0d0d0d"/>
<circle cx="65.1" cy="324.1" r="1.4" fill="#0d0d0d"/>
<circle cx="69.1" cy="321.7" r="1.4" fill="#0d0d0d"/>
<circle cx="73.2" cy="319.2" r="1.4" fill="#0d0d0d"/>
<circle cx="77.1" cy="316.1" r="1.4" fill="#0d0d0d"/>
<circle cx="80.8" cy="313.2" r="1.4" fill="#0d0d0d"/>
<circle cx="84.8" cy="308.8" r="1.4" fill="#0d0d0d"/>
<circle cx="88.8" cy="304.5" r="1.4" fill="#0d0d0d"/>
<circle cx="92.6" cy="299.7" r="1.4" fill="#0d0d0d"/>
<circle cx="96.7" cy="295.4" r="1.4" fill="#0d0d0d"/>
<circle cx="100.75" cy="289" r="1.4" fill="#0d0d0d"/>
<circle cx="104.8" cy="278.9" r="1.4" fill="#0d0d0d"/>
<circle cx="108.7" cy="262.9" r="1.4" fill="#0d0d0d"/>
<circle cx="112.6" cy="259.4" r="1.4" fill="#0d0d0d"/>
<circle cx="116.6" cy="270.65" r="1.4" fill="#0d0d0d"/>
<circle cx="120.4" cy="291.3" r="1.4" fill="#0d0d0d"/>
<circle cx="124.3" cy="302.4" r="1.4" fill="#0d0d0d"/>
<circle cx="128.3" cy="297.8" r="1.4" fill="#0d0d0d"/>
<circle cx="132.1" cy="290.2" r="1.4" fill="#0d0d0d"/>
<circle cx="136.1" cy="287.95" r="1.4" fill="#0d0d0d"/>
<circle cx="140.1" cy="289.2" r="1.4" fill="#0d0d0d"/>
<circle cx="144.1" cy="289.2" r="1.4" fill="#0d0d0d"/>
<circle cx="148.1" cy="288.3" r="1.4" fill="#0d0d0d"/>
<circle cx="151.9" cy="289.2" r="1.4" fill="#0d0d0d"/>
<circle cx="155.9" cy="292" r="1.4" fill="#0d0d0d"/>
<circle cx="159.9" cy="296.4" r="1.4" fill="#0d0d0d"/>
<circle cx="163.6" cy="300.7" r="1.4" fill="#0d0d0d"/>
<circle cx="167.4" cy="302.8" r="1.4" fill="#0d0d0d"/>
<circle cx="171.2" cy="305" r="1.4" fill="#0d0d0d"/>
<circle cx="175.2" cy="306.25" r="1.4" fill="#0d0d0d"/>
<circle cx="179" cy="307.45" r="1.4" fill="#0d0d0d"/>
<circle cx="183" cy="308.55" r="1.4" fill="#0d0d0d"/>
<circle cx="187" cy="309.3" r="1.4" fill="#0d0d0d"/>
<circle cx="190.8" cy="310" r="1.4" fill="#0d0d0d"/>
<circle cx="194.8" cy="310.3" r="1.4" fill="#0d0d0d"/>
<circle cx="198.7" cy="310.9" r="1.4" fill="#0d0d0d"/>
<circle cx="202.7" cy="311.3" r="1.4" fill="#0d0d0d"/>
<circle cx="206.5" cy="311.8" r="1.4" fill="#0d0d0d"/>
<circle cx="210.5" cy="312.2" r="1.4" fill="#0d0d0d"/>
<circle cx="214.3" cy="312.4" r="1.4" fill="#0d0d0d"/>
<circle cx="218.3" cy="312.5" r="1.4" fill="#0d0d0d"/>
<circle cx="222.2" cy="312.8" r="1.4" fill="#0d0d0d"/>
<circle cx="225.9" cy="312.8" r="1.4" fill="#0d0d0d"/>
<polyline points="33,331.5 36.9,334 41,333.3 45.1,331.8 49,330 53.1,328.2 57.1,326.5 61.2,324.5 65.1,322.3 69.1,320 73.2,317.5 77.1,314.5 80.8,311.5 84.8,309.5 88.8,305.5 92.6,301.5 96.7,296.6 100.75,293.3 104.8,289.6 108.7,283.4 112.6,270 116.6,252.4 120.4,254.6 124.3,277.85 128.3,297.7 132.1,302.8 136.1,301.6 140.1,303.9 144.1,307.1 148.1,309.4 151.9,310.2 155.9,310.6 159.9,311.5 163.6,312.7 167.4,312.7 171.2,312.9 175.2,313.3 179,313.6 183,313.6 187,313.8 190.8,313.86 194.8,313.92 198.7,313.98 202.7,314.04 206.5,314.1 210.5,314.16 214.3,314.22 218.3,314.28 222.2,314.34 225.9,314.4" fill="none" stroke="#ff5050" stroke-width="0.7" stroke-linejoin="round"/>
<path d="M33 327V336M32.1 327H33.9M32.1 336H33.9M36.9 329.5V338.5M36 329.5H37.8M36 338.5H37.8M41 328.8V337.8M40.1 328.8H41.9M40.1 337.8H41.9M45.1 327.3V336.3M44.2 327.3H46M44.2 336.3H46M49 325.5V334.5M48.1 325.5H49.9M48.1 334.5H49.9M53.1 323.7V332.7M52.2 323.7H54M52.2 332.7H54M57.1 322V331M56.2 322H58M56.2 331H58M61.2 320V329M60.3 320H62.1M60.3 329H62.1M65.1 317.8V326.8M64.2 317.8H66M64.2 326.8H66M69.1 315.5V324.5M68.2 315.5H70M68.2 324.5H70M73.2 313V322M72.3 313H74.1M72.3 322H74.1M77.1 310V319M76.2 310H78M76.2 319H78M80.8 307V316M79.9 307H81.7M79.9 316H81.7M84.8 305V314M83.9 305H85.7M83.9 314H85.7M88.8 301V310M87.9 301H89.7M87.9 310H89.7M92.6 297V306M91.7 297H93.5M91.7 306H93.5M96.7 292.1V301.1M95.8 292.1H97.6M95.8 301.1H97.6M100.75 288.8V297.8M99.85 288.8H101.65M99.85 297.8H101.65M104.8 285.1V294.1M103.9 285.1H105.7M103.9 294.1H105.7M108.7 279.4V287.4M107.8 279.4H109.6M107.8 287.4H109.6M112.6 266V274M111.7 266H113.5M111.7 274H113.5M116.6 245.1V259.7M115.7 245.1H117.5M115.7 259.7H117.5M120.4 250.6V258.6M119.5 250.6H121.3M119.5 258.6H121.3M124.3 273.85V281.85M123.4 273.85H125.2M123.4 281.85H125.2M128.3 294.7V300.7M127.4 294.7H129.2M127.4 300.7H129.2M132.1 300.3V305.3M131.2 300.3H133M131.2 305.3H133M136.1 299.1V304.1M135.2 299.1H137M135.2 304.1H137M140.1 301.4V306.4M139.2 301.4H141M139.2 306.4H141M144.1 305.1V309.1M143.2 305.1H145M143.2 309.1H145M148.1 308.2V310.6M147.2 308.2H149M147.2 310.6H149M151.9 309V311.4M151 309H152.8M151 311.4H152.8M155.9 309.4V311.8M155 309.4H156.8M155 311.8H156.8M159.9 310.3V312.7M159 310.3H160.8M159 312.7H160.8M163.6 311.5V313.9M162.7 311.5H164.5M162.7 313.9H164.5M167.4 311.5V313.9M166.5 311.5H168.3M166.5 313.9H168.3M171.2 311.7V314.1M170.3 311.7H172.1M170.3 314.1H172.1M175.2 312.1V314.5M174.3 312.1H176.1M174.3 314.5H176.1M179 312.4V314.8M178.1 312.4H179.9M178.1 314.8H179.9M183 312.4V314.8M182.1 312.4H183.9M182.1 314.8H183.9M187 312.6V315M186.1 312.6H187.9M186.1 315H187.9M190.8 312.66V315.06M189.9 312.66H191.7M189.9 315.06H191.7M194.8 312.72V315.12M193.9 312.72H195.7M193.9 315.12H195.7M198.7 312.78V315.18M197.8 312.78H199.6M197.8 315.18H199.6M202.7 312.84V315.24M201.8 312.84H203.6M201.8 315.24H203.6M206.5 312.9V315.3M205.6 312.9H207.4M205.6 315.3H207.4M210.5 312.96V315.36M209.6 312.96H211.4M209.6 315.36H211.4M214.3 313.02V315.42M213.4 313.02H215.2M213.4 315.42H215.2M218.3 313.08V315.48M217.4 313.08H219.2M217.4 315.48H219.2M222.2 313.14V315.54M221.3 313.14H223.1M221.3 315.54H223.1M225.9 313.2V315.6M225 313.2H226.8M225 315.6H226.8" stroke="#ff6060" stroke-width="0.55" fill="none"/>
<circle cx="33" cy="331.5" r="1.2" fill="#ff1a1a"/>
<circle cx="36.9" cy="334" r="1.2" fill="#ff1a1a"/>
<circle cx="41" cy="333.3" r="1.2" fill="#ff1a1a"/>
<circle cx="45.1" cy="331.8" r="1.2" fill="#ff1a1a"/>
<circle cx="49" cy="330" r="1.2" fill="#ff1a1a"/>
<circle cx="53.1" cy="328.2" r="1.2" fill="#ff1a1a"/>
<circle cx="57.1" cy="326.5" r="1.2" fill="#ff1a1a"/>
<circle cx="61.2" cy="324.5" r="1.2" fill="#ff1a1a"/>
<circle cx="65.1" cy="322.3" r="1.2" fill="#ff1a1a"/>
<circle cx="69.1" cy="320" r="1.2" fill="#ff1a1a"/>
<circle cx="73.2" cy="317.5" r="1.2" fill="#ff1a1a"/>
<circle cx="77.1" cy="314.5" r="1.2" fill="#ff1a1a"/>
<circle cx="80.8" cy="311.5" r="1.2" fill="#ff1a1a"/>
<circle cx="84.8" cy="309.5" r="1.2" fill="#ff1a1a"/>
<circle cx="88.8" cy="305.5" r="1.2" fill="#ff1a1a"/>
<circle cx="92.6" cy="301.5" r="1.2" fill="#ff1a1a"/>
<circle cx="96.7" cy="296.6" r="1.2" fill="#ff1a1a"/>
<circle cx="100.75" cy="293.3" r="1.2" fill="#ff1a1a"/>
<circle cx="104.8" cy="289.6" r="1.2" fill="#ff1a1a"/>
<circle cx="108.7" cy="283.4" r="1.2" fill="#ff1a1a"/>
<circle cx="112.6" cy="270" r="1.2" fill="#ff1a1a"/>
<circle cx="116.6" cy="252.4" r="1.2" fill="#ff1a1a"/>
<circle cx="120.4" cy="254.6" r="1.2" fill="#ff1a1a"/>
<circle cx="124.3" cy="277.85" r="1.2" fill="#ff1a1a"/>
<circle cx="128.3" cy="297.7" r="1.2" fill="#ff1a1a"/>
<circle cx="132.1" cy="302.8" r="1.2" fill="#ff1a1a"/>
<circle cx="136.1" cy="301.6" r="1.2" fill="#ff1a1a"/>
<circle cx="140.1" cy="303.9" r="1.2" fill="#ff1a1a"/>
<circle cx="144.1" cy="307.1" r="1.2" fill="#ff1a1a"/>
<circle cx="148.1" cy="309.4" r="1.2" fill="#ff1a1a"/>
<circle cx="151.9" cy="310.2" r="1.2" fill="#ff1a1a"/>
<circle cx="155.9" cy="310.6" r="1.2" fill="#ff1a1a"/>
<circle cx="159.9" cy="311.5" r="1.2" fill="#ff1a1a"/>
<circle cx="163.6" cy="312.7" r="1.2" fill="#ff1a1a"/>
<circle cx="167.4" cy="312.7" r="1.2" fill="#ff1a1a"/>
<circle cx="171.2" cy="312.9" r="1.2" fill="#ff1a1a"/>
<circle cx="175.2" cy="313.3" r="1.2" fill="#ff1a1a"/>
<circle cx="179" cy="313.6" r="1.2" fill="#ff1a1a"/>
<circle cx="183" cy="313.6" r="1.2" fill="#ff1a1a"/>
<circle cx="187" cy="313.8" r="1.2" fill="#ff1a1a"/>
<circle cx="190.8" cy="313.86" r="1.2" fill="#ff1a1a"/>
<circle cx="194.8" cy="313.92" r="1.2" fill="#ff1a1a"/>
<circle cx="198.7" cy="313.98" r="1.2" fill="#ff1a1a"/>
<circle cx="202.7" cy="314.04" r="1.2" fill="#ff1a1a"/>
<circle cx="206.5" cy="314.1" r="1.2" fill="#ff1a1a"/>
<circle cx="210.5" cy="314.16" r="1.2" fill="#ff1a1a"/>
<circle cx="214.3" cy="314.22" r="1.2" fill="#ff1a1a"/>
<circle cx="218.3" cy="314.28" r="1.2" fill="#ff1a1a"/>
<circle cx="222.2" cy="314.34" r="1.2" fill="#ff1a1a"/>
<circle cx="225.9" cy="314.4" r="1.2" fill="#ff1a1a"/>
<line x1="233.6" y1="266.5" x2="241.7" y2="266.5" stroke="#333" stroke-width="0.8"/>
<circle cx="237.3" cy="266.5" r="1.35" fill="#0d0d0d"/>
<text x="246.2" y="268.9" class="lg">CTR +</text>
<line x1="233.6" y1="273.8" x2="241.7" y2="273.8" stroke="#ff5050" stroke-width="0.8"/>
<circle cx="237.3" cy="273.8" r="1.35" fill="#ff1a1a"/>
<text x="246.2" y="275.8" class="lg">OXY +</text>
<line x1="299.9" y1="233.4" x2="299.9" y2="368" stroke="#444" stroke-width="1.3"/>
<line x1="297.9" y1="367.6" x2="299.9" y2="367.6" stroke="#1a1a1a" stroke-width="0.9"/>
<text transform="translate(296.8,369.5) scale(0.9,1)" class="tl" text-anchor="end">0</text>
<line x1="297.9" y1="322.87" x2="299.9" y2="322.87" stroke="#1a1a1a" stroke-width="0.9"/>
<text transform="translate(296.8,324.77) scale(0.9,1)" class="tl" text-anchor="end">10</text>
<line x1="297.9" y1="278.13" x2="299.9" y2="278.13" stroke="#1a1a1a" stroke-width="0.9"/>
<text transform="translate(296.8,280.03) scale(0.9,1)" class="tl" text-anchor="end">20</text>
<line x1="297.9" y1="233.4" x2="299.9" y2="233.4" stroke="#1a1a1a" stroke-width="0.9"/>
<text transform="translate(296.8,235.3) scale(0.9,1)" class="tl" text-anchor="end">30</text>
<line x1="307" y1="375.4" x2="502" y2="375.4" stroke="#1a1a1a" stroke-width="1"/>
<line x1="307.7" y1="375.4" x2="307.7" y2="377.2" stroke="#1a1a1a" stroke-width="0.8"/>
<text transform="translate(307.1,383.6) scale(0.9,1)" class="tl" text-anchor="middle">60</text>
<line x1="343.9" y1="375.4" x2="343.9" y2="377.2" stroke="#1a1a1a" stroke-width="0.8"/>
<text transform="translate(343.3,383.6) scale(0.9,1)" class="tl" text-anchor="middle">120</text>
<line x1="380.4" y1="375.4" x2="380.4" y2="377.2" stroke="#1a1a1a" stroke-width="0.8"/>
<text transform="translate(379.8,383.6) scale(0.9,1)" class="tl" text-anchor="middle">180</text>
<line x1="416.9" y1="375.4" x2="416.9" y2="377.2" stroke="#1a1a1a" stroke-width="0.8"/>
<text transform="translate(416.3,383.6) scale(0.9,1)" class="tl" text-anchor="middle">240</text>
<line x1="453.5" y1="375.4" x2="453.5" y2="377.2" stroke="#1a1a1a" stroke-width="0.8"/>
<text transform="translate(452.9,383.6) scale(0.9,1)" class="tl" text-anchor="middle">300</text>
<line x1="489.5" y1="375.4" x2="489.5" y2="377.2" stroke="#1a1a1a" stroke-width="0.8"/>
<text transform="translate(488.9,383.6) scale(0.9,1)" class="tl" text-anchor="middle">360</text>
<text x="401" y="223.8" class="tt" text-anchor="middle">ECAR Data - OXY</text>
<text x="404.95" y="393.7" class="xt" text-anchor="middle">Time after infection (minutes)</text>
<text transform="translate(288,300.2) rotate(-90)" class="yt" text-anchor="middle">ECAR (mpH/min)</text>
<text x="399.8" y="274" class="st" text-anchor="middle">*</text>
<polyline points="308,307.5 312,313.2 316.1,312.2 320,299.6 324.1,310.1 328.2,309.1 332.2,307.2 336.1,305.6 340.2,303.8 344.2,302 348.3,299.2 352.2,294.9 356.2,292.5 360.2,288.4 364,285.6 367.9,283.7 372,284.7 376,283.4 380,279.7 384,272.9 387.8,267.3 391.9,269.8 395.8,283.85 399.7,315.95 403.4,338.2 407.4,337.4 411.3,333.2 415.2,331 419.1,330 423.1,329.1 426.9,328.3 430.9,326 434.9,324.2 438.6,322.1 442.6,319.2 446.6,315.5 450.4,312.4 454.35,304.2 458.3,298.6 462.1,292.1 466.1,287.2 470,282.5 474,277.9 478,274.2 481.9,271.3 485.8,270.8 489.6,268 493.5,267 497.5,265.9 501.6,265.1" fill="none" stroke="#333" stroke-width="0.7" stroke-linejoin="round"/>
<path d="M308 301.7V313.3M307.1 301.7H308.9M307.1 313.3H308.9M312 309.2V317.2M311.1 309.2H312.9M311.1 317.2H312.9M316.1 308.2V316.2M315.2 308.2H317M315.2 316.2H317M320 295.6V303.6M319.1 295.6H320.9M319.1 303.6H320.9M324.1 305.6V314.6M323.2 305.6H325M323.2 314.6H325M328.2 304.6V313.6M327.3 304.6H329.1M327.3 313.6H329.1M332.2 302.7V311.7M331.3 302.7H333.1M331.3 311.7H333.1M336.1 301.1V310.1M335.2 301.1H337M335.2 310.1H337M340.2 299.3V308.3M339.3 299.3H341.1M339.3 308.3H341.1M344.2 297.5V306.5M343.3 297.5H345.1M343.3 306.5H345.1M348.3 294.7V303.7M347.4 294.7H349.2M347.4 303.7H349.2M352.2 290.9V298.9M351.3 290.9H353.1M351.3 298.9H353.1M356.2 288.5V296.5M355.3 288.5H357.1M355.3 296.5H357.1M360.2 284.4V292.4M359.3 284.4H361.1M359.3 292.4H361.1M364 281.6V289.6M363.1 281.6H364.9M363.1 289.6H364.9M367.9 271V296.4M367 271H368.8M367 296.4H368.8M372 271.1V298.3M371.1 271.1H372.9M371.1 298.3H372.9M376 269.8V297M375.1 269.8H376.9M375.1 297H376.9M380 267V292.4M379.1 267H380.9M379.1 292.4H380.9M384 265.4V280.4M383.1 265.4H384.9M383.1 280.4H384.9M387.8 263.3V271.3M386.9 263.3H388.7M386.9 271.3H388.7M391.9 265.8V273.8M391 265.8H392.8M391 273.8H392.8M395.8 271.85V295.85M394.9 271.85H396.7M394.9 295.85H396.7M399.7 297.95V333.95M398.8 297.95H400.6M398.8 333.95H400.6M403.4 335.2V341.2M402.5 335.2H404.3M402.5 341.2H404.3M407.4 334.4V340.4M406.5 334.4H408.3M406.5 340.4H408.3M411.3 330.2V336.2M410.4 330.2H412.2M410.4 336.2H412.2M415.2 328V334M414.3 328H416.1M414.3 334H416.1M419.1 327V333M418.2 327H420M418.2 333H420M423.1 326.1V332.1M422.2 326.1H424M422.2 332.1H424M426.9 325.3V331.3M426 325.3H427.8M426 331.3H427.8M430.9 322V330M430 322H431.8M430 330H431.8M434.9 319.7V328.7M434 319.7H435.8M434 328.7H435.8M438.6 317.1V327.1M437.7 317.1H439.5M437.7 327.1H439.5M442.6 313.7V324.7M441.7 313.7H443.5M441.7 324.7H443.5M446.6 309.5V321.5M445.7 309.5H447.5M445.7 321.5H447.5M450.4 305.4V319.4M449.5 305.4H451.3M449.5 319.4H451.3M454.35 293.4V315M453.45 293.4H455.25M453.45 315H455.25M458.3 287.4V309.8M457.4 287.4H459.2M457.4 309.8H459.2M462.1 280.4V303.8M461.2 280.4H463M461.2 303.8H463M466.1 274.2V300.2M465.2 274.2H467M465.2 300.2H467M470 269.2V295.8M469.1 269.2H470.9M469.1 295.8H470.9M474 264.2V291.6M473.1 264.2H474.9M473.1 291.6H474.9M478 260.3V288.1M477.1 260.3H478.9M477.1 288.1H478.9M481.9 257.2V285.4M481 257.2H482.8M481 285.4H482.8M485.8 256.3V285.3M484.9 256.3H486.7M484.9 285.3H486.7M489.6 254.2V281.8M488.7 254.2H490.5M488.7 281.8H490.5M493.5 253V281M492.6 253H494.4M492.6 281H494.4M497.5 252.4V279.4M496.6 252.4H498.4M496.6 279.4H498.4M501.6 252.1V278.1M500.7 252.1H502.5M500.7 278.1H502.5" stroke="#3a3a3a" stroke-width="0.55" fill="none"/>
<circle cx="308" cy="307.5" r="1.4" fill="#0d0d0d"/>
<circle cx="312" cy="313.2" r="1.4" fill="#0d0d0d"/>
<circle cx="316.1" cy="312.2" r="1.4" fill="#0d0d0d"/>
<circle cx="320" cy="299.6" r="1.4" fill="#0d0d0d"/>
<circle cx="324.1" cy="310.1" r="1.4" fill="#0d0d0d"/>
<circle cx="328.2" cy="309.1" r="1.4" fill="#0d0d0d"/>
<circle cx="332.2" cy="307.2" r="1.4" fill="#0d0d0d"/>
<circle cx="336.1" cy="305.6" r="1.4" fill="#0d0d0d"/>
<circle cx="340.2" cy="303.8" r="1.4" fill="#0d0d0d"/>
<circle cx="344.2" cy="302" r="1.4" fill="#0d0d0d"/>
<circle cx="348.3" cy="299.2" r="1.4" fill="#0d0d0d"/>
<circle cx="352.2" cy="294.9" r="1.4" fill="#0d0d0d"/>
<circle cx="356.2" cy="292.5" r="1.4" fill="#0d0d0d"/>
<circle cx="360.2" cy="288.4" r="1.4" fill="#0d0d0d"/>
<circle cx="364" cy="285.6" r="1.4" fill="#0d0d0d"/>
<circle cx="367.9" cy="283.7" r="1.4" fill="#0d0d0d"/>
<circle cx="372" cy="284.7" r="1.4" fill="#0d0d0d"/>
<circle cx="376" cy="283.4" r="1.4" fill="#0d0d0d"/>
<circle cx="380" cy="279.7" r="1.4" fill="#0d0d0d"/>
<circle cx="384" cy="272.9" r="1.4" fill="#0d0d0d"/>
<circle cx="387.8" cy="267.3" r="1.4" fill="#0d0d0d"/>
<circle cx="391.9" cy="269.8" r="1.4" fill="#0d0d0d"/>
<circle cx="395.8" cy="283.85" r="1.4" fill="#0d0d0d"/>
<circle cx="399.7" cy="315.95" r="1.4" fill="#0d0d0d"/>
<circle cx="403.4" cy="338.2" r="1.4" fill="#0d0d0d"/>
<circle cx="407.4" cy="337.4" r="1.4" fill="#0d0d0d"/>
<circle cx="411.3" cy="333.2" r="1.4" fill="#0d0d0d"/>
<circle cx="415.2" cy="331" r="1.4" fill="#0d0d0d"/>
<circle cx="419.1" cy="330" r="1.4" fill="#0d0d0d"/>
<circle cx="423.1" cy="329.1" r="1.4" fill="#0d0d0d"/>
<circle cx="426.9" cy="328.3" r="1.4" fill="#0d0d0d"/>
<circle cx="430.9" cy="326" r="1.4" fill="#0d0d0d"/>
<circle cx="434.9" cy="324.2" r="1.4" fill="#0d0d0d"/>
<circle cx="438.6" cy="322.1" r="1.4" fill="#0d0d0d"/>
<circle cx="442.6" cy="319.2" r="1.4" fill="#0d0d0d"/>
<circle cx="446.6" cy="315.5" r="1.4" fill="#0d0d0d"/>
<circle cx="450.4" cy="312.4" r="1.4" fill="#0d0d0d"/>
<circle cx="454.35" cy="304.2" r="1.4" fill="#0d0d0d"/>
<circle cx="458.3" cy="298.6" r="1.4" fill="#0d0d0d"/>
<circle cx="462.1" cy="292.1" r="1.4" fill="#0d0d0d"/>
<circle cx="466.1" cy="287.2" r="1.4" fill="#0d0d0d"/>
<circle cx="470" cy="282.5" r="1.4" fill="#0d0d0d"/>
<circle cx="474" cy="277.9" r="1.4" fill="#0d0d0d"/>
<circle cx="478" cy="274.2" r="1.4" fill="#0d0d0d"/>
<circle cx="481.9" cy="271.3" r="1.4" fill="#0d0d0d"/>
<circle cx="485.8" cy="270.8" r="1.4" fill="#0d0d0d"/>
<circle cx="489.6" cy="268" r="1.4" fill="#0d0d0d"/>
<circle cx="493.5" cy="267" r="1.4" fill="#0d0d0d"/>
<circle cx="497.5" cy="265.9" r="1.4" fill="#0d0d0d"/>
<circle cx="501.6" cy="265.1" r="1.4" fill="#0d0d0d"/>
<polyline points="308,297.3 312,306.2 316.1,306 320,294.6 324.1,304.8 328.2,303.5 332.2,302 336.1,300.4 340.2,299.2 344.2,297.6 348.3,295.1 352.2,291.8 356.2,289.35 360.2,285.45 364,281.95 367.9,279.5 372,275.4 376,274.8 380,277.2 384,279.7 387.8,273.5 391.9,265.5 395.8,260.9 399.7,280.1 403.4,313.7 407.4,337.4 411.3,338.2 415.2,337.8 419.1,337.8 423.1,337.8 426.9,337.8 430.9,332.8 434.9,328.5 438.6,322.3 442.6,319.9 446.6,315.1 450.4,311.2 454.35,305.6 458.3,302.6 462.1,298.6 466.1,294.9 470,293.1 474,289.9 478,287.4 481.9,286.2 485.8,284.7 489.6,282.5 493.5,282.2 497.5,280.4 501.6,280.4" fill="none" stroke="#ff5050" stroke-width="0.7" stroke-linejoin="round"/>
<path d="M308 289.7V304.9M307.1 289.7H308.9M307.1 304.9H308.9M312 303.2V309.2M311.1 303.2H312.9M311.1 309.2H312.9M316.1 303V309M315.2 303H317M315.2 309H317M320 291.6V297.6M319.1 291.6H320.9M319.1 297.6H320.9M324.1 301.8V307.8M323.2 301.8H325M323.2 307.8H325M328.2 300.5V306.5M327.3 300.5H329.1M327.3 306.5H329.1M332.2 299V305M331.3 299H333.1M331.3 305H333.1M336.1 297.4V303.4M335.2 297.4H337M335.2 303.4H337M340.2 296.2V302.2M339.3 296.2H341.1M339.3 302.2H341.1M344.2 294.6V300.6M343.3 294.6H345.1M343.3 300.6H345.1M348.3 292.1V298.1M347.4 292.1H349.2M347.4 298.1H349.2M352.2 288.8V294.8M351.3 288.8H353.1M351.3 294.8H353.1M356.2 286.35V292.35M355.3 286.35H357.1M355.3 292.35H357.1M360.2 282.45V288.45M359.3 282.45H361.1M359.3 288.45H361.1M364 278.95V284.95M363.1 278.95H364.9M363.1 284.95H364.9M367.9 276.5V282.5M367 276.5H368.8M367 282.5H368.8M372 272.4V278.4M371.1 272.4H372.9M371.1 278.4H372.9M376 271.8V277.8M375.1 271.8H376.9M375.1 277.8H376.9M380 272.2V282.2M379.1 272.2H380.9M379.1 282.2H380.9M384 274.7V284.7M383.1 274.7H384.9M383.1 284.7H384.9M387.8 269.5V277.5M386.9 269.5H388.7M386.9 277.5H388.7M391.9 261.5V269.5M391 261.5H392.8M391 269.5H392.8M395.8 257.2V264.6M394.9 257.2H396.7M394.9 264.6H396.7M399.7 277.1V283.1M398.8 277.1H400.6M398.8 283.1H400.6M403.4 297.3V330.1M402.5 297.3H404.3M402.5 330.1H404.3M407.4 334.9V339.9M406.5 334.9H408.3M406.5 339.9H408.3M411.3 335.7V340.7M410.4 335.7H412.2M410.4 340.7H412.2M415.2 335.3V340.3M414.3 335.3H416.1M414.3 340.3H416.1M419.1 335.3V340.3M418.2 335.3H420M418.2 340.3H420M423.1 335.3V340.3M422.2 335.3H424M422.2 340.3H424M426.9 335.3V340.3M426 335.3H427.8M426 340.3H427.8M430.9 330.3V335.3M430 330.3H431.8M430 335.3H431.8M434.9 326V331M434 326H435.8M434 331H435.8M438.6 319.8V324.8M437.7 319.8H439.5M437.7 324.8H439.5M442.6 317.4V322.4M441.7 317.4H443.5M441.7 322.4H443.5M446.6 312.6V317.6M445.7 312.6H447.5M445.7 317.6H447.5M450.4 308.2V314.2M449.5 308.2H451.3M449.5 314.2H451.3M454.35 302.6V308.6M453.45 302.6H455.25M453.45 308.6H455.25M458.3 299.6V305.6M457.4 299.6H459.2M457.4 305.6H459.2M462.1 295.6V301.6M461.2 295.6H463M461.2 301.6H463M466.1 291.9V297.9M465.2 291.9H467M465.2 297.9H467M470 290.1V296.1M469.1 290.1H470.9M469.1 296.1H470.9M474 286.9V292.9M473.1 286.9H474.9M473.1 292.9H474.9M478 284.4V290.4M477.1 284.4H478.9M477.1 290.4H478.9M481.9 283.2V289.2M481 283.2H482.8M481 289.2H482.8M485.8 281.7V287.7M484.9 281.7H486.7M484.9 287.7H486.7M489.6 279.5V285.5M488.7 279.5H490.5M488.7 285.5H490.5M493.5 279.2V285.2M492.6 279.2H494.4M492.6 285.2H494.4M497.5 277.4V283.4M496.6 277.4H498.4M496.6 283.4H498.4M501.6 277.4V283.4M500.7 277.4H502.5M500.7 283.4H502.5" stroke="#ff6060" stroke-width="0.55" fill="none"/>
<circle cx="308" cy="297.3" r="1.2" fill="#ff1a1a"/>
<circle cx="312" cy="306.2" r="1.2" fill="#ff1a1a"/>
<circle cx="316.1" cy="306" r="1.2" fill="#ff1a1a"/>
<circle cx="320" cy="294.6" r="1.2" fill="#ff1a1a"/>
<circle cx="324.1" cy="304.8" r="1.2" fill="#ff1a1a"/>
<circle cx="328.2" cy="303.5" r="1.2" fill="#ff1a1a"/>
<circle cx="332.2" cy="302" r="1.2" fill="#ff1a1a"/>
<circle cx="336.1" cy="300.4" r="1.2" fill="#ff1a1a"/>
<circle cx="340.2" cy="299.2" r="1.2" fill="#ff1a1a"/>
<circle cx="344.2" cy="297.6" r="1.2" fill="#ff1a1a"/>
<circle cx="348.3" cy="295.1" r="1.2" fill="#ff1a1a"/>
<circle cx="352.2" cy="291.8" r="1.2" fill="#ff1a1a"/>
<circle cx="356.2" cy="289.35" r="1.2" fill="#ff1a1a"/>
<circle cx="360.2" cy="285.45" r="1.2" fill="#ff1a1a"/>
<circle cx="364" cy="281.95" r="1.2" fill="#ff1a1a"/>
<circle cx="367.9" cy="279.5" r="1.2" fill="#ff1a1a"/>
<circle cx="372" cy="275.4" r="1.2" fill="#ff1a1a"/>
<circle cx="376" cy="274.8" r="1.2" fill="#ff1a1a"/>
<circle cx="380" cy="277.2" r="1.2" fill="#ff1a1a"/>
<circle cx="384" cy="279.7" r="1.2" fill="#ff1a1a"/>
<circle cx="387.8" cy="273.5" r="1.2" fill="#ff1a1a"/>
<circle cx="391.9" cy="265.5" r="1.2" fill="#ff1a1a"/>
<circle cx="395.8" cy="260.9" r="1.2" fill="#ff1a1a"/>
<circle cx="399.7" cy="280.1" r="1.2" fill="#ff1a1a"/>
<circle cx="403.4" cy="313.7" r="1.2" fill="#ff1a1a"/>
<circle cx="407.4" cy="337.4" r="1.2" fill="#ff1a1a"/>
<circle cx="411.3" cy="338.2" r="1.2" fill="#ff1a1a"/>
<circle cx="415.2" cy="337.8" r="1.2" fill="#ff1a1a"/>
<circle cx="419.1" cy="337.8" r="1.2" fill="#ff1a1a"/>
<circle cx="423.1" cy="337.8" r="1.2" fill="#ff1a1a"/>
<circle cx="426.9" cy="337.8" r="1.2" fill="#ff1a1a"/>
<circle cx="430.9" cy="332.8" r="1.2" fill="#ff1a1a"/>
<circle cx="434.9" cy="328.5" r="1.2" fill="#ff1a1a"/>
<circle cx="438.6" cy="322.3" r="1.2" fill="#ff1a1a"/>
<circle cx="442.6" cy="319.9" r="1.2" fill="#ff1a1a"/>
<circle cx="446.6" cy="315.1" r="1.2" fill="#ff1a1a"/>
<circle cx="450.4" cy="311.2" r="1.2" fill="#ff1a1a"/>
<circle cx="454.35" cy="305.6" r="1.2" fill="#ff1a1a"/>
<circle cx="458.3" cy="302.6" r="1.2" fill="#ff1a1a"/>
<circle cx="462.1" cy="298.6" r="1.2" fill="#ff1a1a"/>
<circle cx="466.1" cy="294.9" r="1.2" fill="#ff1a1a"/>
<circle cx="470" cy="293.1" r="1.2" fill="#ff1a1a"/>
<circle cx="474" cy="289.9" r="1.2" fill="#ff1a1a"/>
<circle cx="478" cy="287.4" r="1.2" fill="#ff1a1a"/>
<circle cx="481.9" cy="286.2" r="1.2" fill="#ff1a1a"/>
<circle cx="485.8" cy="284.7" r="1.2" fill="#ff1a1a"/>
<circle cx="489.6" cy="282.5" r="1.2" fill="#ff1a1a"/>
<circle cx="493.5" cy="282.2" r="1.2" fill="#ff1a1a"/>
<circle cx="497.5" cy="280.4" r="1.2" fill="#ff1a1a"/>
<circle cx="501.6" cy="280.4" r="1.2" fill="#ff1a1a"/>
<line x1="516.2" y1="264" x2="523.7" y2="264" stroke="#333" stroke-width="0.8"/>
<circle cx="520" cy="264" r="1.35" fill="#0d0d0d"/>
<text x="528.8" y="266.4" class="lg">CTR +</text>
<line x1="516.2" y1="272.3" x2="523.7" y2="272.3" stroke="#ff5050" stroke-width="0.8"/>
<circle cx="520" cy="272.3" r="1.35" fill="#ff1a1a"/>
<text x="528.8" y="274.8" class="lg">OXY +</text>
</svg>
</body></html>
